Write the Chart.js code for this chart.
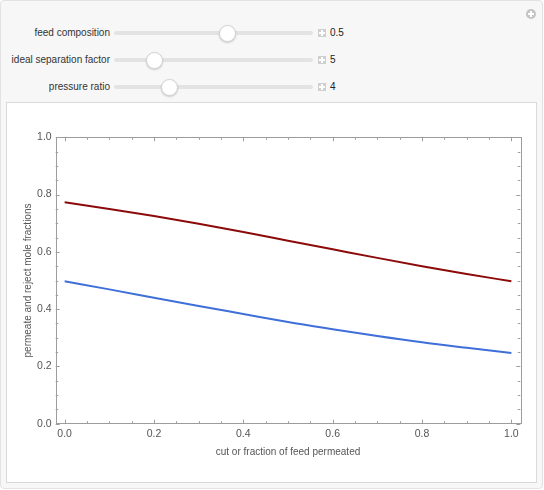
<!DOCTYPE html>
<html>
<head>
<meta charset="utf-8">
<script src="https://cdn.jsdelivr.net/npm/chart.js@4"></script>
<style>
  body { margin: 0; background: #fff; font-family: "Liberation Sans", Arial, sans-serif; }
  #panel { position: absolute; left: 0; top: 0; width: 541px; height: 487px; background: #f7f7f7; border: 1px solid #e2e2e2; border-radius: 4px; }
  .lbl { position: absolute; width: 110px; text-align: right; font-size: 10px; color: #333; line-height: 14px; }
  .track { position: absolute; left: 114px; width: 199px; height: 4px; background: #e3e3e3; border-radius: 2px; }
  .thumb { position: absolute; width: 15px; height: 15px; border-radius: 50%; background: #fff; border: 1px solid #d2d2d2; box-shadow: 0 1px 2px rgba(0,0,0,0.18); }
  .plus { position: absolute; left: 318px; width: 8px; height: 8px; background: #cfcfcf; }
  .plus:before { content: ""; position: absolute; left: 3px; top: 1px; width: 2px; height: 6px; background: #fff; }
  .plus:after { content: ""; position: absolute; left: 1px; top: 3px; width: 6px; height: 2px; background: #fff; }
  .val { position: absolute; left: 330px; font-size: 10px; color: #222; line-height: 14px; }
  #addbtn { position: absolute; left: 526px; top: 9px; width: 10px; height: 10px; border-radius: 50%; background: #c4c4c4; }
  #addbtn:before { content: ""; position: absolute; left: 4px; top: 2px; width: 2px; height: 6px; background: #fff; }
  #addbtn:after { content: ""; position: absolute; left: 2px; top: 4px; width: 6px; height: 2px; background: #fff; }
  #plotbox { position: absolute; left: 6px; top: 102px; width: 529px; height: 379px; background: #fff; border: 1px solid #d9d9d9; }
  #chart { position: absolute; left: 7px; top: 103px; }
</style>
</head>
<body>
<div id="panel"></div>
<div id="addbtn"></div>

<div class="lbl" style="left:0;top:26px">feed composition</div>
<div class="track" style="top:31px"></div>
<div class="thumb" style="left:219px;top:25px"></div>
<div class="plus" style="top:29px"></div>
<div class="val" style="top:26px">0.5</div>

<div class="lbl" style="left:0;top:53px">ideal separation factor</div>
<div class="track" style="top:58px"></div>
<div class="thumb" style="left:146px;top:52px"></div>
<div class="plus" style="top:56px"></div>
<div class="val" style="top:53px">5</div>

<div class="lbl" style="left:0;top:80px">pressure ratio</div>
<div class="track" style="top:85px"></div>
<div class="thumb" style="left:161px;top:79px"></div>
<div class="plus" style="top:83px"></div>
<div class="val" style="top:80px">4</div>

<div id="plotbox"></div>
<canvas id="chart" width="529" height="380"></canvas>

<script>
// values
var cutVals = [0, 0.1, 0.2, 0.3, 0.4, 0.5, 0.6, 0.7, 0.8, 0.9, 1.0];
var permeateVals = [0.773, 0.750, 0.725, 0.698, 0.669, 0.639, 0.609, 0.579, 0.550, 0.523, 0.497];
var rejectVals = [0.497, 0.469, 0.440, 0.411, 0.383, 0.355, 0.330, 0.306, 0.284, 0.265, 0.247];

var xTickVals = [0, 0.2, 0.4, 0.6, 0.8, 1.0];
var yTickVals = [0, 0.2, 0.4, 0.6, 0.8, 1.0];

var xTitle = 'cut or fraction of feed permeated';
var yTitle = 'permeate and reject mole fractions';

var FONT = '"Liberation Sans", Arial, sans-serif';
var TXT = '#555555';
var FRAME = '#9d9d9d';

function pts(ys) {
  return cutVals.map(function(x, i) { return { x: x, y: ys[i] }; });
}

// frame on all four sides with inward ticks (major + minor every 0.05)
var framePlugin = {
  id: 'frame',
  afterDraw: function(chart) {
    var ctx = chart.ctx, a = chart.chartArea;
    var sx = chart.scales.x, sy = chart.scales.y;
    ctx.save();
    ctx.strokeStyle = FRAME;
    ctx.lineWidth = 1;
    ctx.strokeRect(Math.round(a.left) + 0.5, Math.round(a.top) + 0.5, Math.round(a.right - a.left), Math.round(a.bottom - a.top));
    ctx.beginPath();
    for (var k = 0; k <= 20; k++) {
      var v = k / 20;
      var len = (k % 4 === 0) ? 4 : 2.5;
      var px = Math.round(sx.getPixelForValue(v)) + 0.5;
      ctx.moveTo(px, a.bottom); ctx.lineTo(px, a.bottom - len);
      ctx.moveTo(px, a.top); ctx.lineTo(px, a.top + len);
      var py = Math.round(sy.getPixelForValue(v)) + 0.5;
      ctx.moveTo(a.left, py); ctx.lineTo(a.left + len, py);
      ctx.moveTo(a.right, py); ctx.lineTo(a.right - len, py);
    }
    ctx.stroke();
    ctx.restore();
  }
};

new Chart(document.getElementById('chart'), {
  type: 'line',
  data: {
    datasets: [
      { label: 'permeate', data: pts(permeateVals), borderColor: '#8c0a0a', borderWidth: 2, pointRadius: 0, cubicInterpolationMode: 'monotone', fill: false },
      { label: 'reject', data: pts(rejectVals), borderColor: '#3f6fd8', borderWidth: 2, pointRadius: 0, cubicInterpolationMode: 'monotone', fill: false }
    ]
  },
  options: {
    responsive: false,
    animation: false,
    layout: { padding: { top: 34.3, right: 15.7, left: 0, bottom: 0 } },
    plugins: { legend: { display: false }, tooltip: { enabled: false } },
    scales: {
      x: {
        type: 'linear', min: -0.02, max: 1.02,
        afterBuildTicks: function(s) { s.ticks = xTickVals.map(function(v) { return { value: v }; }); },
        afterFit: function(s) { s.height = 59.3; },
        grid: { display: false, drawTicks: false },
        border: { display: false },
        ticks: { color: TXT, padding: 4, font: { family: FONT, size: 10.5 }, maxRotation: 0,
                 callback: function(v) { return v.toFixed(1); } },
        title: { display: true, text: xTitle, color: TXT, font: { family: FONT, size: 10 }, padding: { bottom: 25, top: 0 } }
      },
      y: {
        type: 'linear', min: 0, max: 1,
        afterBuildTicks: function(s) { s.ticks = yTickVals.map(function(v) { return { value: v }; }); },
        afterFit: function(s) { s.width = 48.7; },
        grid: { display: false, drawTicks: false },
        border: { display: false },
        ticks: { color: TXT, padding: 4, font: { family: FONT, size: 10.5 },
                 callback: function(v) { return v.toFixed(1); } },
        title: { display: true, text: yTitle, color: TXT, font: { family: FONT, size: 10 }, padding: { top: 15, bottom: 0 } }
      }
    }
  },
  plugins: [framePlugin]
});
</script>
</body>
</html>
